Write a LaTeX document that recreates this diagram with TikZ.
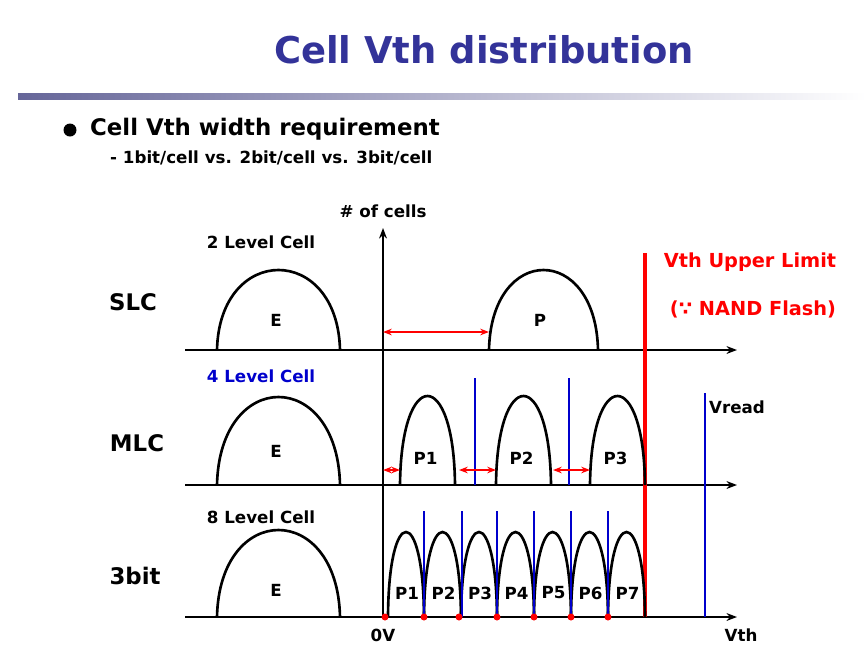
\documentclass[tikz,border=0pt]{standalone}
\usepackage{fontspec}
\setmainfont{DejaVu Sans}
\usetikzlibrary{arrows.meta}
\definecolor{titleblue}{RGB}{51,51,153}
\definecolor{barblue}{RGB}{102,102,153}
\tikzset{
  arch/.style={line width=1.5pt},
  axis/.style={line width=0.9pt},
  gap/.style={red, line width=0.8pt, {Stealth[length=5pt]}-{Stealth[length=5pt]}},
  rline/.style={blue!80!black, line width=0.6pt},
  lbl/.style={font=\bfseries\fontsize{9.5}{11}\selectfont},
}
% arch: x1, x2, base, peak
\newcommand\archp[4]{%
  \pgfmathsetmacro\cxa{#1+0.02*(#2-#1)}%
  \pgfmathsetmacro\cxb{#2-0.02*(#2-#1)}%
  \pgfmathsetmacro\cy{#3-4/3*(#3-#4)}%
  \draw[arch] (#1,#3) .. controls (\cxa,\cy) and (\cxb,\cy) .. (#2,#3);}
\begin{document}
\begin{tikzpicture}[x=0.02cm, y=-0.02cm]
  \useasboundingbox (0,0) rectangle (866,647);
  %titolo
  \node[titleblue, font=\bfseries\fontsize{21}{24}\selectfont] (title) at (484,50) {Cell Vth distribution};
  \shade[left color=barblue, right color=white] (18,93) rectangle (866,99);
  \fill (70,130) circle (6.5);
  \node[anchor=west, font=\bfseries\fontsize{13}{15}\selectfont] (req) at (84,129) {Cell Vth width requirement};
  \node[anchor=west, font=\bfseries\fontsize{9.5}{11}\selectfont] (sub) at (104,158) {- 1bit/cell vs. 2bit/cell vs. 3bit/cell};
  %assi
  \draw[axis, -{Stealth[length=6pt]}] (383,617) -- (383,228);
  \node[lbl] (ycap) at (383,211) {\# of cells};
  \foreach \yy in {350,485,617}
    \draw[axis, -{Stealth[length=6pt]}] (185,\yy) -- (737,\yy);
  \node[lbl] (zero) at (383,635) {0V};
  \node[lbl] (vth) at (741,635) {Vth};
  %limite
  \draw[red, line width=2pt] (645,253) -- (645,617);
  \node[red, font=\bfseries\fontsize{11}{13}\selectfont] (lim) at (750,262) {Vth Upper Limit};
  \node[red, font=\bfseries\fontsize{11}{13}\selectfont] (nand) at (753,309) {(∵ NAND Flash)};
  %SLC
  \node[font=\bfseries\fontsize{13}{15}\selectfont] (slc) at (133,302) {SLC};
  \node[lbl] (lv2) at (261,242) {2 Level Cell};
  \archp{217}{340}{350}{270}
  \archp{489}{598}{350}{270}
  \node[lbl] (e1) at (276,320) {E};
  \node[lbl] (p) at (540,320) {P};
  \draw[gap] (383,332) -- (489,332);
  %MLC
  \node[font=\bfseries\fontsize{13}{15}\selectfont] (mlc) at (137,443) {MLC};
  \node[lbl, blue!80!black] (lv4) at (261,376) {4 Level Cell};
  \archp{217}{340}{485}{397}
  \node[lbl] (e2) at (276,451) {E};
  \foreach \a/\b/\t in {400/455/P1,496/551/P2,590/645/P3}{
    \archp{\a}{\b}{485}{396}
    \node[lbl] at ({(\a+\b)/2-2},458) {\t};}
  \draw[rline] (475,378) -- (475,485);
  \draw[rline] (569,378) -- (569,485);
  \draw[rline] (705,393) -- (705,617);
  \node[lbl] (vread) at (737,407) {Vread};
  \draw[gap] (383,470) -- (400,470);
  \draw[gap] (459,470) -- (496,470);
  \draw[gap] (553,470) -- (590,470);
  %3bit
  \node[font=\bfseries\fontsize{13}{15}\selectfont] (tlc) at (135,576) {3bit};
  \node[lbl] (lv8) at (261,517) {8 Level Cell};
  \archp{217}{340}{617}{530}
  \node[lbl] (e3) at (276,590) {E};
  \foreach \a/\b/\t in {388/424/P1,424/461/P2,461/497/P3,497/534/P4,534/571/P5,571/608/P6,608/645/P7}{
    \archp{\a}{\b}{617}{532}
    \node[lbl] at ({(\a+\b)/2+1},593) {\t};}
  \foreach \xx in {424,462,497,534,571,608}
    \draw[rline] (\xx,511) -- (\xx,617);
  \foreach \xx in {385,424,459,497,534,571,608}
    \fill[red] (\xx,617) circle (3.5);
\end{tikzpicture}
\end{document}
